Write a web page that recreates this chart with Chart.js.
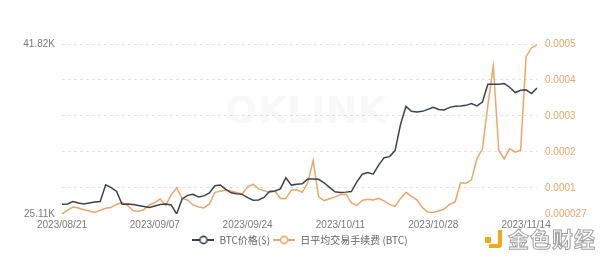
<!DOCTYPE html>
<html>
<head>
<meta charset="utf-8">
<script src="https://cdn.jsdelivr.net/npm/chart.js@4.4.0/dist/chart.umd.min.js"></script>
<style>
  html, body { margin: 0; padding: 0; background: #fff; }
  #wrap { position: relative; width: 600px; height: 257px; }
  #logo { position: absolute; left: 485px; top: 224px; height: 28px; display: flex; align-items: center; }
  #logo .icon { width: 17px; height: 20px; position: relative; margin-right: 6px; }
  #logo .icon .a { position: absolute; left: 0; top: 9px; width: 6px; height: 6px; background: #f0a81c; border-radius: 1px; }
  #logo .icon .b { position: absolute; left: 4px; top: 2px; width: 13px; height: 18px; border: 4px solid #f0a81c; border-top: none; border-left: none; box-sizing: border-box; border-radius: 0 0 4px 0; }
  #logo .txt { font-family: "Noto Sans CJK SC", sans-serif; font-size: 21px; font-weight: 700; color: #fff; -webkit-text-stroke: 1px #a0a0a0; letter-spacing: 1px; }
</style>
</head>
<body>
<div id="wrap">
  <canvas id="grafico" width="600" height="257"></canvas>
  <div id="logo"><div class="icon"><div class="a"></div><div class="b"></div></div><span class="txt">金色财经</span></div>
</div>
<script>
// dados: 2023/08/21 a 2023/11/16
const dataInicial = new Date(2023, 7, 21);
const totalDias = 88;
const xTickLabels = ["2023/08/21", "2023/09/07", "2023/09/24", "2023/10/11", "2023/10/28", "2023/11/14"];

const precoBTC = [
    26070, 26100, 26330, 26200, 26100, 26200, 26300, 26330, 27980, 27710,
    27320, 26070, 26100, 26050, 25950, 25850, 25750, 25900, 26050, 26100,
    26000, 25110, 26590, 26940, 27040, 26790, 26890, 27190, 27880, 27950,
    27530, 27190, 27090, 27040, 26720, 26470, 26490, 26740, 27320, 27380,
    27580, 28670, 27950, 28030, 28080, 28540, 28540, 28520, 28180, 27730,
    27290, 27220, 27260, 27320, 28270, 29020, 29190, 29020, 29910, 30650,
    30750, 31340, 33910, 35690, 35200, 35130, 35200, 35390, 35590, 35390,
    35340, 35590, 35690, 35720, 35790, 35960, 35740, 36120, 37870, 37870,
    37870, 37930, 37570, 37050, 37270, 37320, 36950, 37500
];

const taxaMedia = [
    0.000027, 0.0000368, 0.0000466, 0.0000438, 0.0000388, 0.0000354, 0.0000312, 0.0000374, 0.0000432, 0.0000452,
    0.0000536, 0.0000592, 0.0000508, 0.0000368, 0.000034, 0.0000396, 0.0000522, 0.0000586, 0.000069, 0.0000508,
    0.0000802, 0.0000998, 0.0000704, 0.0000662, 0.0000522, 0.0000466, 0.0000438, 0.000055, 0.0000872, 0.00009,
    0.0000928, 0.00009, 0.0000872, 0.000083, 0.0001026, 0.0001102, 0.000097, 0.000092, 0.0000872, 0.0000908,
    0.0000704, 0.0000704, 0.0000934, 0.0000942, 0.0000872, 0.0001138, 0.0001754, 0.0000746, 0.000064, 0.0000696,
    0.0000746, 0.000081, 0.0000822, 0.0000578, 0.0000508, 0.0000648, 0.0000682, 0.0000662, 0.0000704, 0.0000634,
    0.0000536, 0.000048, 0.0000704, 0.0000872, 0.000076, 0.0000662, 0.0000452, 0.0000326, 0.0000312, 0.0000354,
    0.000041, 0.0000536, 0.0000606, 0.0001138, 0.0001124, 0.0001222, 0.000181, 0.0002076, 0.0003294, 0.0004386,
    0.0002034, 0.0001802, 0.000209, 0.0001992, 0.0002048, 0.0004646, 0.000489, 0.0004974
];

const eixoEsqValores = [25110, 41820];
const eixoEsqLabels = ["25.11K", "41.82K"];
const eixoDirValores = [0.000027, 0.0001, 0.0002, 0.0003, 0.0004, 0.0005];
const eixoDirLabels = ["0.000027", "0.0001", "0.0002", "0.0003", "0.0004", "0.0005"];

const corBTC = "#3d434c";
const corTaxa = "#eba66c";

const datas = [];
for (let i = 0; i < totalDias; i++) {
    const d = new Date(dataInicial.getTime() + i * 86400000);
    const mm = String(d.getMonth() + 1).padStart(2, "0");
    const dd = String(d.getDate()).padStart(2, "0");
    datas.push(`${d.getFullYear()}/${mm}/${dd}`);
}

function simboloLegenda(cor) {
    const c = document.createElement("canvas");
    c.width = 22;
    c.height = 10;
    const ctx = c.getContext("2d");
    ctx.strokeStyle = cor;
    ctx.lineWidth = 2;
    ctx.beginPath();
    ctx.moveTo(0, 5);
    ctx.lineTo(7, 5);
    ctx.moveTo(15, 5);
    ctx.lineTo(22, 5);
    ctx.stroke();
    ctx.lineWidth = 1.6;
    ctx.beginPath();
    ctx.arc(11, 5, 3.6, 0, Math.PI * 2);
    ctx.fillStyle = "#fff";
    ctx.fill();
    ctx.stroke();
    return c;
}

const marcaDagua = {
    id: "marcaDagua",
    beforeDatasetsDraw(chart) {
        const { ctx } = chart;
        ctx.save();
        ctx.font = "bold 38px 'DejaVu Sans'";
        ctx.fillStyle = "rgba(0, 0, 0, 0.028)";
        ctx.textAlign = "center";
        ctx.textBaseline = "middle";
        ctx.fillText("OKLINK", 306, 113);
        ctx.restore();
    }
};

const fonteEixo = { family: "Liberation Sans", size: 10 };

new Chart(document.getElementById("grafico"), {
    type: "line",
    data: {
        labels: datas,
        datasets: [
            {
                label: "BTC价格($)",
                data: precoBTC,
                yAxisID: "yEsq",
                borderColor: corBTC,
                backgroundColor: corBTC,
                borderWidth: 1.5,
                pointRadius: 0,
                pointStyle: simboloLegenda(corBTC),
                tension: 0
            },
            {
                label: "日平均交易手续费 (BTC)",
                data: taxaMedia,
                yAxisID: "yDir",
                borderColor: corTaxa,
                backgroundColor: corTaxa,
                borderWidth: 1.5,
                pointRadius: 0,
                pointStyle: simboloLegenda(corTaxa),
                tension: 0
            }
        ]
    },
    options: {
        responsive: false,
        animation: false,
        layout: { padding: { top: 44, left: 0, right: 0, bottom: 2 } },
        scales: {
            x: {
                offset: false,
                grid: { display: false, drawTicks: false },
                border: { display: false },
                ticks: {
                    autoSkip: false,
                    maxRotation: 0,
                    padding: 5,
                    color: "#7a7a7a",
                    font: fonteEixo,
                    callback: (valor, i) => xTickLabels.includes(datas[i]) ? datas[i] : ""
                },
                afterFit: (escala) => { escala.height = 18; }
            },
            yEsq: {
                position: "left",
                min: eixoEsqValores[0],
                max: eixoEsqValores[1],
                grid: { display: false, drawTicks: false },
                border: { display: false },
                afterBuildTicks: (escala) => {
                    escala.ticks = eixoEsqValores.map((v) => ({ value: v }));
                },
                ticks: {
                    padding: 7,
                    color: "#7a7a7a",
                    font: fonteEixo,
                    callback: (valor) => eixoEsqLabels[eixoEsqValores.indexOf(valor)]
                },
                afterFit: (escala) => { escala.width = 62; }
            },
            yDir: {
                position: "right",
                min: eixoDirValores[0],
                max: eixoDirValores[eixoDirValores.length - 1],
                border: { display: false, dash: [3, 3] },
                grid: {
                    drawTicks: false,
                    color: (ctx) => ctx.index === 0 ? "rgba(0,0,0,0)" : "#e2e2e2",
                    lineWidth: 1
                },
                afterBuildTicks: (escala) => {
                    escala.ticks = eixoDirValores.map((v) => ({ value: v }));
                },
                ticks: {
                    padding: 8,
                    color: corTaxa,
                    font: fonteEixo,
                    callback: (valor) => eixoDirLabels[eixoDirValores.indexOf(valor)]
                },
                afterFit: (escala) => { escala.width = 63; }
            }
        },
        plugins: {
            legend: {
                position: "bottom",
                labels: {
                    usePointStyle: true,
                    pointStyleWidth: 22,
                    boxHeight: 10,
                    padding: 3,
                    color: "#666",
                    font: { family: "Noto Sans CJK SC", size: 10 }
                }
            },
            tooltip: { enabled: false }
        }
    },
    plugins: [marcaDagua]
});
</script>
</body>
</html>
